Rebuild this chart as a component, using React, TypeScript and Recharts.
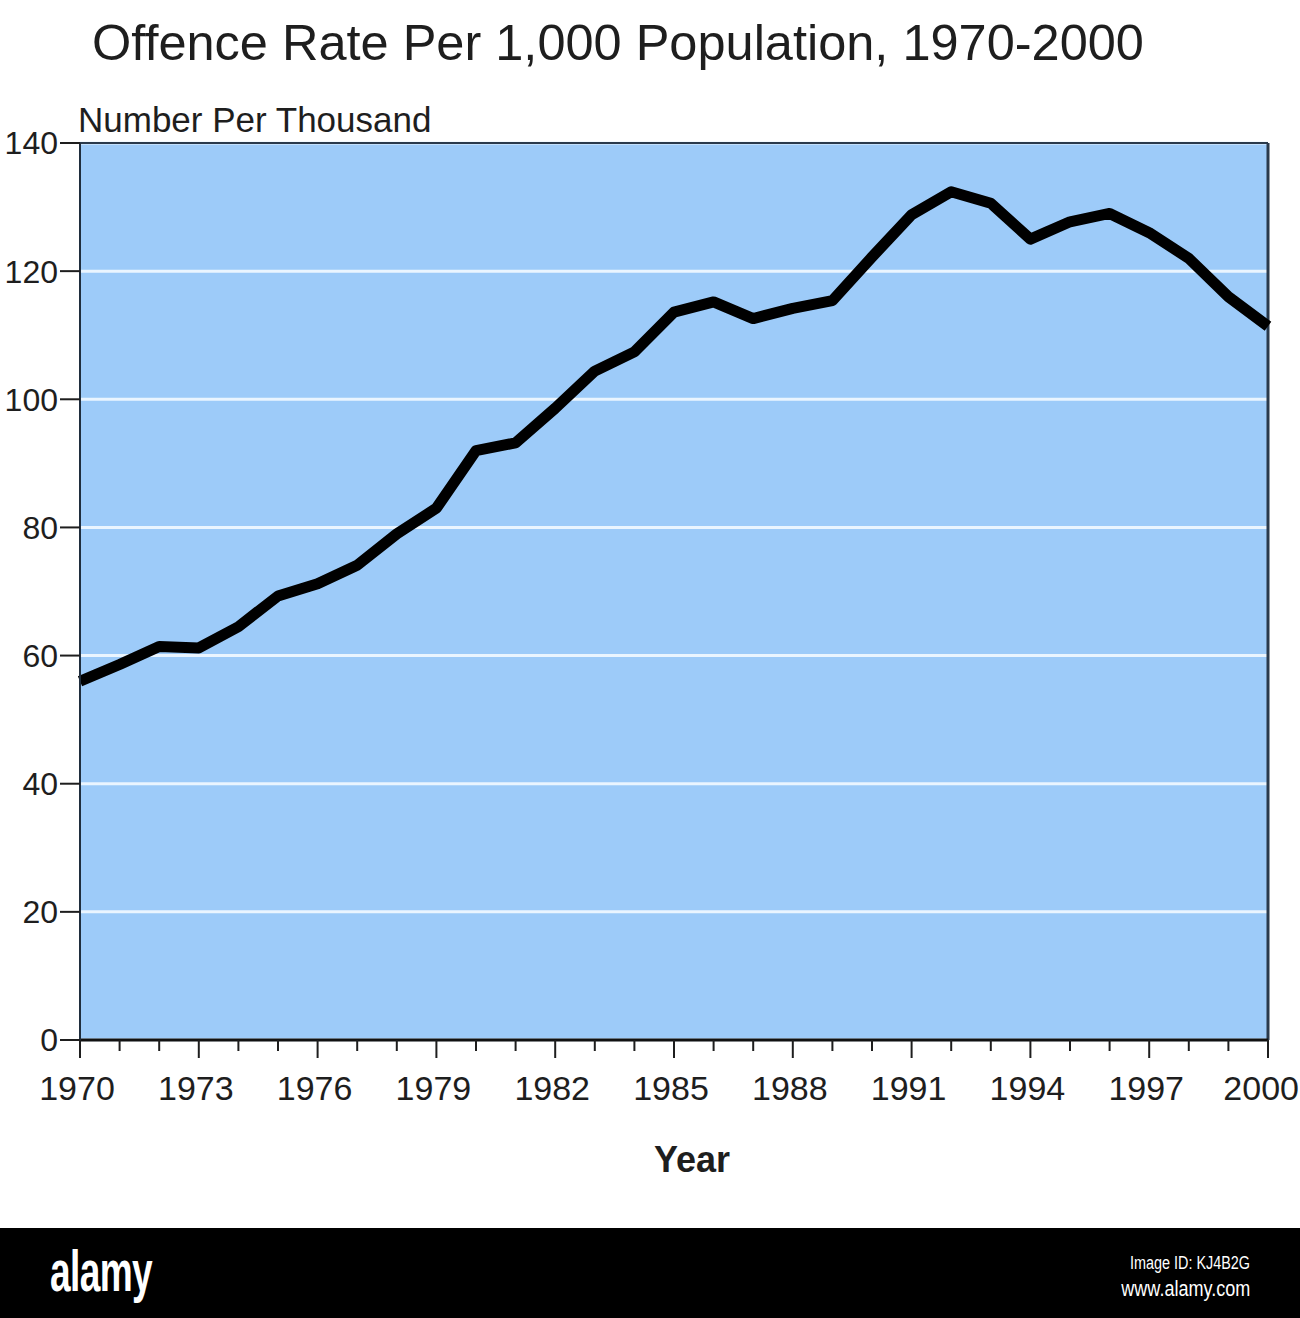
import React from 'react';
import {
  LineChart,
  Line,
  XAxis,
  YAxis,
  CartesianGrid,
  ReferenceLine
} from 'recharts';

// Offences recorded per 1,000 population, one value per year
const years = [
  1970, 1971, 1972, 1973, 1974, 1975, 1976, 1977, 1978, 1979,
  1980, 1981, 1982, 1983, 1984, 1985, 1986, 1987, 1988, 1989,
  1990, 1991, 1992, 1993, 1994, 1995, 1996, 1997, 1998, 1999, 2000
];
const offenceRate = [
  56.0, 58.6, 61.4, 61.2, 64.5, 69.3, 71.2, 74.1, 79.0, 83.0,
  92.0, 93.2, 98.6, 104.4, 107.4, 113.6, 115.2, 112.6, 114.2, 115.4,
  122.2, 128.8, 132.4, 130.6, 125.0, 127.7, 129.0, 126.0, 122.0, 116.0, 111.4
];
const yTicks = [0, 20, 40, 60, 80, 100, 120, 140];
const labelledYears = [1970, 1973, 1976, 1979, 1982, 1985, 1988, 1991, 1994, 1997, 2000];

const chartData = years.map((year, i) => ({ year, rate: offenceRate[i] }));

const FONT = '"Liberation Sans", Arial, Helvetica, sans-serif';
const INK = '#1e1e1e';

// every year gets a tick, every third year a longer tick plus a label
const YearTick = (props: any) => {
  const { x, y, payload } = props;
  const major = labelledYears.includes(payload.value);
  const last = payload.value === years[years.length - 1];
  return (
    <g>
      <line x1={x} x2={x} y1={y} y2={y + (major ? 18 : 11)} stroke={INK} strokeWidth={2} />
      {major && (
        <text
          x={last ? 1299 : x - 3}
          y={y + 60}
          textAnchor={last ? 'end' : 'middle'}
          fontSize={34}
          fontFamily={FONT}
          fill={INK}
        >
          {payload.value}
        </text>
      )}
    </g>
  );
};

const App: React.FC = () => {
  return (
    <div
      style={{
        position: 'absolute',
        left: 0,
        top: 0,
        width: 1300,
        height: 1318,
        background: '#fff',
        fontFamily: FONT,
        overflow: 'hidden'
      }}
    >
      <div
        style={{
          position: 'absolute',
          left: 92,
          top: 18,
          fontSize: 50.5,
          lineHeight: '50px',
          color: INK,
          whiteSpace: 'nowrap'
        }}
      >
        Offence Rate Per 1,000 Population, 1970-2000
      </div>
      <div
        style={{
          position: 'absolute',
          left: 78,
          top: 102,
          fontSize: 35,
          lineHeight: '35px',
          color: INK,
          whiteSpace: 'nowrap'
        }}
      >
        Number Per Thousand
      </div>

      <div style={{ position: 'absolute', left: 0, top: 0 }}>
        <LineChart
          width={1300}
          height={1228}
          data={chartData}
          margin={{ top: 143, right: 32, bottom: 128, left: 0 }}
        >
          <CartesianGrid
            vertical={false}
            stroke="#eaf5ff"
            strokeWidth={3}
            fill="#9dcbf9"
            fillOpacity={1}
          />
          <XAxis
            dataKey="year"
            type="number"
            domain={[1970, 2000]}
            ticks={years}
            interval={0}
            height={60}
            tickSize={0}
            tickMargin={0}
            tick={<YearTick />}
            axisLine={{ stroke: '#111', strokeWidth: 3 }}
          />
          <YAxis
            domain={[0, 140]}
            ticks={yTicks}
            width={80}
            tickSize={20}
            tickMargin={2}
            tick={{ fontSize: 32, fill: INK, fontFamily: FONT }}
            tickLine={{ stroke: INK, strokeWidth: 2 }}
            axisLine={{ stroke: '#1f2d3d', strokeWidth: 2 }}
          />
          <ReferenceLine y={140} stroke="#2a3a4c" strokeWidth={2} />
          <ReferenceLine x={2000} stroke="#2a3a4c" strokeWidth={3} />
          <Line
            type="linear"
            dataKey="rate"
            stroke="#000"
            strokeWidth={11}
            strokeLinejoin="round"
            dot={false}
            activeDot={false}
            isAnimationActive={false}
          />
        </LineChart>
      </div>

      <div
        style={{
          position: 'absolute',
          left: 0,
          width: 1384,
          top: 1142,
          fontSize: 36,
          lineHeight: '36px',
          fontWeight: 'bold',
          color: INK,
          textAlign: 'center'
        }}
      >
        Year
      </div>

      {/* footer band */}
      <div
        style={{
          position: 'absolute',
          left: 0,
          top: 1228,
          width: 1300,
          height: 90,
          background: '#000',
          color: '#fff'
        }}
      >
        <div
          style={{
            position: 'absolute',
            left: 50,
            top: 14,
            fontSize: 58,
            lineHeight: '58px',
            fontWeight: 'bold',
            transform: 'scaleX(0.64)',
            transformOrigin: 'left top',
            letterSpacing: -1
          }}
        >
          alamy
        </div>
        <div
          style={{
            position: 'absolute',
            right: 50,
            top: 26,
            fontSize: 18,
            lineHeight: '18px',
            transform: 'scaleX(0.8)',
            transformOrigin: 'right top',
            whiteSpace: 'nowrap'
          }}
        >
          Image ID: KJ4B2G
        </div>
        <div
          style={{
            position: 'absolute',
            right: 50,
            top: 50,
            fontSize: 22,
            lineHeight: '22px',
            transform: 'scaleX(0.82)',
            transformOrigin: 'right top',
            whiteSpace: 'nowrap'
          }}
        >
          www.alamy.com
        </div>
      </div>
    </div>
  );
};

export default App;
